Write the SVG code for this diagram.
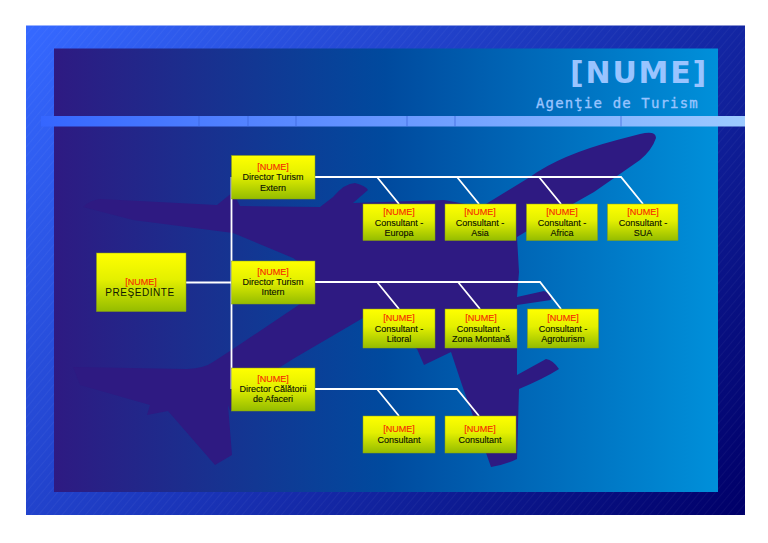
<svg xmlns="http://www.w3.org/2000/svg" width="768" height="543" viewBox="0 0 768 543">
<style>
.nm{font:9px "Liberation Sans",Arial,sans-serif;fill:#f62800;stroke:#f62800;stroke-width:.12;text-anchor:middle}
.tx{font:9px "Liberation Sans",Arial,sans-serif;fill:#0a1000;stroke:#0a1000;stroke-width:.12;text-anchor:middle}
.box{fill:url(#boxG);stroke:#8aa010;stroke-width:.5}
.con{fill:none;stroke:#fff;stroke-width:1.8}
.sep{stroke:#3a62d8;stroke-width:.7}
</style>
<defs>
<linearGradient id="outerG" gradientUnits="userSpaceOnUse" x1="60" y1="0" x2="710" y2="540"><stop offset="0" stop-color="#3568ff"/><stop offset=".5" stop-color="#1a34b8"/><stop offset="1" stop-color="#00006a"/></linearGradient>
<linearGradient id="innerG" gradientUnits="userSpaceOnUse" x1="54" y1="0" x2="718" y2="0"><stop offset="0" stop-color="#2e1a82"/><stop offset=".5" stop-color="#004a9e"/><stop offset="1" stop-color="#0090da"/></linearGradient>
<linearGradient id="bandG" gradientUnits="userSpaceOnUse" x1="41" y1="0" x2="745" y2="0"><stop offset="0" stop-color="#3566ff"/><stop offset="1" stop-color="#9ccaff"/></linearGradient>
<linearGradient id="boxG" x1="0" y1="0" x2="0" y2="1"><stop offset="0" stop-color="#ffff00"/><stop offset=".45" stop-color="#e4f000"/><stop offset="1" stop-color="#94bc00"/></linearGradient>
<pattern id="hatch" width="6" height="6" patternUnits="userSpaceOnUse" patternTransform="rotate(-50)"><line x1="0" y1="0" x2="6" y2="0" stroke="#fff" stroke-opacity=".08" stroke-width="1"/></pattern>
</defs>
<rect width="768" height="543" fill="#fff"/>
<rect x="26" y="25.500" width="719" height="489.500" fill="url(#outerG)"/>
<rect x="26" y="25.500" width="719" height="489.500" fill="url(#hatch)"/>
<rect x="54" y="48.500" width="664" height="443.500" fill="url(#innerG)"/>
<path fill="#2e1a82" d="M640 134Q656 130 656 138Q652 150 640 160L594 192L557 213L517 237L519 272L517 297L544 291Q552 295 551 300L517 305L517 375L546 359Q553 360 559 369Q545 378 519 389L517 459Q505 465 491 467L462 385L451 352L424 365L417 349L363 318L293 359L277 369L230 411L228 405L232 455L215 465L168 411L147 415L150 405L80 385L73 367L187 369Q205 368 213 362L233 349L300 304L310 270L293 258L233 233L133 220L83 207Q90 200 100 199L217 205L233 192L240 206L320 207L333 197Q345 183 355 183Q366 186 368 190L353 203L444 200L481 207L530 177Q560 155 617 140Z"/>
<rect x="41" y="116" width="704" height="10.500" fill="url(#bandG)"/>
<g id="band-separators" class="sep"><line x1="199" y1="116" x2="199" y2="126.500"/><line x1="248" y1="116" x2="248" y2="126.500"/><line x1="296" y1="116" x2="296" y2="126.500"/><line x1="407" y1="116" x2="407" y2="126.500"/><line x1="455" y1="116" x2="455" y2="126.500"/><line x1="621" y1="116" x2="621" y2="126.500"/></g>
<g id="title">
<text x="570" y="83" font-family="'DejaVu Sans',sans-serif" font-weight="700" font-size="30" letter-spacing="1.800" fill="#99c4ff">[NUME]</text>
<text x="536" y="108" font-family="'DejaVu Sans Mono',monospace" font-size="14" letter-spacing="1.150" fill="#99c4ff" stroke="#99c4ff" stroke-width=".35">Agenţie de Turism</text>
</g>
<g id="connectors" class="con">
<path d="M186 282.500H232M231.500 177V389"/>
<path d="M315 177H621L643 204M377 177L399 204M457 177L479 204M539 177L561 204"/>
<path d="M315 282H540L561 309M377 282L399 309M458 282L480 309"/>
<path d="M315 389H457L479 416M377 389L399 416"/>
</g>
<g id="president"><rect class="box" x="96.500" y="253" width="89.500" height="58.500"/><text class="nm" x="141" y="284.500">[NUME]</text><text x="140" y="296" text-anchor="middle" font-family="'Liberation Sans',Arial,sans-serif" font-size="10" letter-spacing=".55" fill="#101800">PREŞEDINTE</text></g>
<g id="director-extern"><rect class="box" x="231.500" y="155.500" width="83.500" height="43.500"/><text class="nm" x="273" y="169.500">[NUME]</text><text class="tx" x="273" y="180">Director Turism</text><text class="tx" x="273" y="191">Extern</text></g>
<g id="director-intern"><rect class="box" x="231.500" y="261" width="83.500" height="43"/><text class="nm" x="273" y="275">[NUME]</text><text class="tx" x="273" y="285">Director Turism</text><text class="tx" x="273" y="295">Intern</text></g>
<g id="director-afaceri"><rect class="box" x="231.500" y="368" width="83.500" height="43"/><text class="nm" x="273" y="382">[NUME]</text><text class="tx" x="273" y="392">Director Călătorii</text><text class="tx" x="273" y="402">de Afaceri</text></g>
<g id="c-europa"><rect class="box" x="363" y="204" width="72" height="36.500"/><text class="nm" x="399" y="215">[NUME]</text><text class="tx" x="399" y="225.500">Consultant -</text><text class="tx" x="399" y="236">Europa</text></g>
<g id="c-asia"><rect class="box" x="445" y="204" width="71" height="36.500"/><text class="nm" x="480" y="215">[NUME]</text><text class="tx" x="480" y="225.500">Consultant -</text><text class="tx" x="480" y="236">Asia</text></g>
<g id="c-africa"><rect class="box" x="526.500" y="204" width="71" height="36.500"/><text class="nm" x="562" y="215">[NUME]</text><text class="tx" x="562" y="225.500">Consultant -</text><text class="tx" x="562" y="236">Africa</text></g>
<g id="c-sua"><rect class="box" x="607.500" y="204" width="70.500" height="36.500"/><text class="nm" x="643" y="215">[NUME]</text><text class="tx" x="643" y="225.500">Consultant -</text><text class="tx" x="643" y="236">SUA</text></g>
<g id="c-litoral"><rect class="box" x="363" y="309" width="72" height="39"/><text class="nm" x="399" y="321">[NUME]</text><text class="tx" x="399" y="331.500">Consultant -</text><text class="tx" x="399" y="341.500">Litoral</text></g>
<g id="c-montana"><rect class="box" x="445" y="309" width="72" height="39"/><text class="nm" x="481" y="321">[NUME]</text><text class="tx" x="481" y="331.500">Consultant -</text><text class="tx" x="481" y="341.500">Zona Montană</text></g>
<g id="c-agroturism"><rect class="box" x="527.500" y="309" width="71" height="39"/><text class="nm" x="563" y="321">[NUME]</text><text class="tx" x="563" y="331.500">Consultant -</text><text class="tx" x="563" y="341.500">Agroturism</text></g>
<g id="c-1"><rect class="box" x="363" y="416" width="72" height="37"/><text class="nm" x="399" y="432">[NUME]</text><text class="tx" x="399" y="443">Consultant</text></g>
<g id="c-2"><rect class="box" x="445" y="416" width="71" height="37"/><text class="nm" x="480" y="432">[NUME]</text><text class="tx" x="480" y="443">Consultant</text></g>
</svg>
